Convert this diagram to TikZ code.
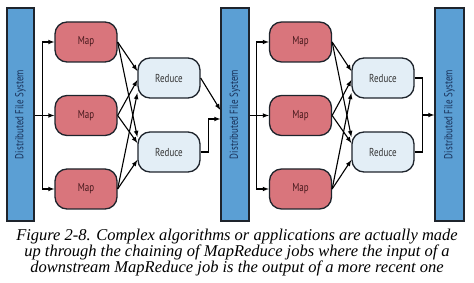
\documentclass[tikz,border=0pt]{standalone}
\usepackage{fontspec}
\setmainfont{Liberation Serif}
\newfontfamily\narrowsans[FakeStretch=0.78]{PT Sans}
\usetikzlibrary{arrows.meta, positioning, calc}
\definecolor{dfsblue}{RGB}{91,159,212}
\definecolor{dfstext}{RGB}{24,48,88}
\definecolor{mapred}{RGB}{217,117,124}
\definecolor{maptext}{RGB}{70,24,28}
\definecolor{redblue}{RGB}{227,238,246}
\definecolor{boxline}{RGB}{30,36,44}

\begin{document}
\begin{tikzpicture}[x=1pt, y=-1pt,
    dfs/.style={draw=boxline, line width=1.3pt, fill=dfsblue, minimum width=27pt, minimum height=213pt, inner sep=0pt},
    dfslabel/.style={rotate=90, text=dfstext, font=\narrowsans\fontsize{11.5}{12}\selectfont},
    mapbox/.style={draw=boxline, line width=1.3pt, fill=mapred, rounded corners=12pt, minimum width=62pt, minimum height=40pt, font=\narrowsans\fontsize{11.5}{12}\selectfont, text=maptext},
    redbox/.style={mapbox, fill=redblue, text=black!80},
    flow/.style={-latex, line width=1.1pt, black},
    line/.style={line width=1.1pt, black},
]
    % Canvas
    \useasboundingbox (0,0) rectangle (474,283);

    % Distributed file systems
    \node[dfs, label={[dfslabel]center:Distributed File System}] (dfs1) at (20.5,114.5) {};
    \node[dfs, minimum width=28pt, label={[dfslabel]center:Distributed File System}] (dfs2) at (235,114.5) {};
    \node[dfs, minimum width=29pt, label={[dfslabel]center:Distributed File System}] (dfs3) at (449.5,114.5) {};

    % First job
    \node[mapbox] (m1) at (86,42) {Map};
    \node[mapbox] (m2) at (86,115.5) {Map};
    \node[mapbox] (m3) at (86,189) {Map};
    \node[redbox] (r1) at (169,78) {Reduce};
    \node[redbox] (r2) at (169,152) {Reduce};

    % Second job
    \node[mapbox] (m4) at (300.5,42) {Map};
    \node[mapbox] (m5) at (300.5,115.5) {Map};
    \node[mapbox] (m6) at (300.5,189) {Map};
    \node[redbox] (r3) at (383,78) {Reduce};
    \node[redbox] (r4) at (383,152) {Reduce};

    % Input split
    \coordinate (split1) at ($(dfs1.east |- m2.west)!0.38!(m2.west)$);
    \draw[flow] (dfs1.east |- m2.west) -- (m2.west);
    \draw[flow] (split1) |- (m1.west);
    \draw[flow] (split1) |- (m3.west);
    \coordinate (split2) at ($(dfs2.east |- m5.west)!0.38!(m5.west)$);
    \draw[flow] (dfs2.east |- m5.west) -- (m5.west);
    \draw[flow] (split2) |- (m4.west);
    \draw[flow] (split2) |- (m6.west);

    % Shuffle
    \foreach \m/\a/\b in {m1/-7/-15, m2/2/-9, m3/15/8} {
        \draw[flow] (\m.east) -- ($(r1.west)+(0,\a)$);
        \draw[flow] (\m.east) -- ($(r2.west)+(0,\b)$);
    }
    \foreach \m/\a/\b in {m4/-7/-15, m5/2/-9, m6/15/8} {
        \draw[flow] (\m.east) -- ($(r3.west)+(0,\a)$);
        \draw[flow] (\m.east) -- ($(r4.west)+(0,\b)$);
    }

    % Output of first job
    \draw[flow] (r1.east) -- ($(dfs2.west)+(0,-4.5)$);
    \draw[flow] (r2.east) -- ++(8,0) |- ($(dfs2.west)+(0,4.5)$);

    % Output of second job
    \coordinate (join) at ($(r3.east)!0.5!(r4.east)+(8,0)$);
    \draw[line] (r3.east) -| (join);
    \draw[line] (r4.east) -| (join);
    \draw[flow] (join) -- (join -| dfs3.west);

    % Caption
    \node[font=\itshape\fontsize{16.5}{15.8}\selectfont, align=center, anchor=north, inner sep=0pt] (caption) at (237,229)
        {Figure 2-8. Complex algorithms or applications are actually made\\
         up through the chaining of MapReduce jobs where the input of a\\
         downstream MapReduce job is the output of a more recent one};
\end{tikzpicture}
\end{document}
